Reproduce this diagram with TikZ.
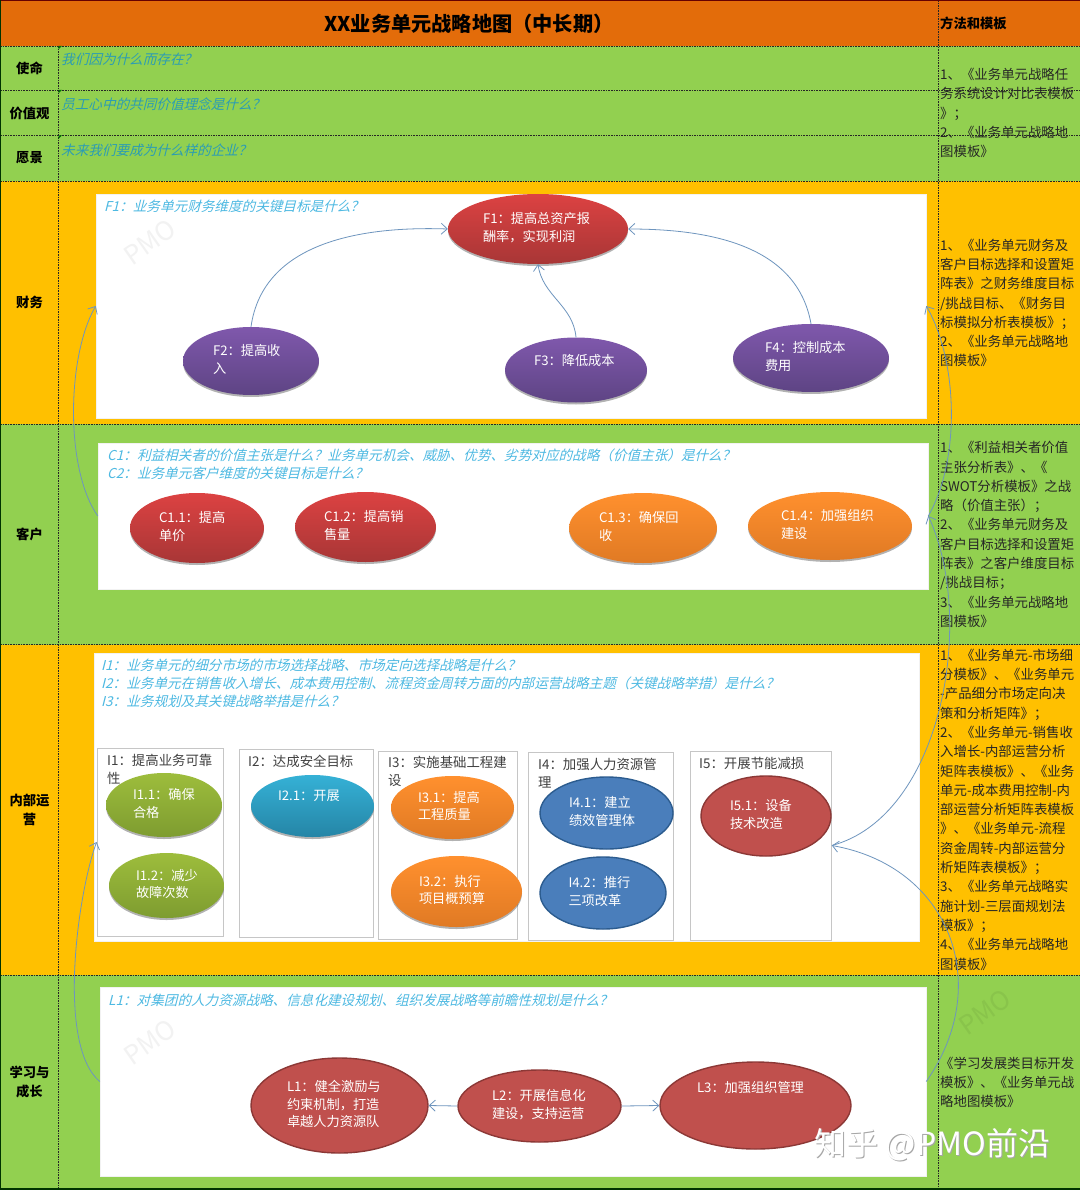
\documentclass[tikz,border=0pt]{standalone}
\usepackage{fontspec}
\setmainfont{Noto Sans CJK SC}
\newfontfamily\slantfont[FakeSlant=0.25]{Noto Sans CJK SC}
\usetikzlibrary{shapes.geometric,shadows,arrows.meta}
\definecolor{headbg}{HTML}{E36C0A}
\definecolor{greenbg}{HTML}{92D050}
\definecolor{yellowbg}{HTML}{FFC000}
\definecolor{flowcol}{HTML}{6E95BE}
\definecolor{asktop}{HTML}{2B9CB4}
\definecolor{askpanel}{HTML}{4DB9E2}
\tikzset{
    rowline/.style={line width=0.6pt,black!85,dash pattern=on 1.6pt off 1pt},
    rowlabel/.style={font=\fontsize{13.3}{19}\selectfont\bfseries,align=center,text=black},
    method/.style={anchor=west,inner sep=0pt,align=left,font=\fontsize{13.4}{19.3}\selectfont,text=black!85},
    panel/.style={fill=white,draw=white!90!gray,line width=0.5pt,inner sep=0pt},
    askmain/.style={anchor=west,inner sep=0pt,text=asktop,font=\fontsize{13.6}{18}\selectfont\slantfont},
    ask/.style={anchor=west,inner sep=0pt,text=askpanel,align=left,font=\fontsize{13.6}{18}\selectfont\slantfont},
    kpibox/.style={fill=white,draw=gray!45,line width=0.8pt,inner sep=0pt},
    kpititle/.style={anchor=north west,inner sep=0pt,align=left,text=black!75,font=\fontsize{13.4}{18}\selectfont},
    goal/.style={ellipse,inner sep=0pt,align=left,text=white,font=\fontsize{13.2}{17.5}\selectfont,execute at end node={\par\vspace*{3pt}}},
    softshadow/.style={drop shadow={shadow xshift=0pt,shadow yshift=-2pt,fill=black,opacity=0.3}},
    redgoal/.style={goal,top color=red1,bottom color=red2,softshadow},
    purplegoal/.style={goal,top color=purple1,bottom color=purple2,softshadow},
    orangegoal/.style={goal,top color=orange1,bottom color=orange2,softshadow},
    greengoal/.style={goal,top color=green1,bottom color=green2,softshadow},
    tealgoal/.style={goal,top color=teal1,bottom color=teal2,softshadow},
    bluegoal/.style={goal,fill=blue1,draw=blue2,line width=1.4pt},
    flatgoal/.style={goal,fill=flat1,draw=flat2,line width=1.4pt},
    flow/.style={draw=flowcol,line width=0.8pt,-{Straight Barb[length=6pt,width=11pt]}},
    cornermark/.style={fill=green!45!black},
    stamp/.style={text=gray!10,rotate=35,font=\fontsize{26}{28}\selectfont}
}
\definecolor{red1}{HTML}{DC4242}
\definecolor{red2}{HTML}{A83636}
\definecolor{purple1}{HTML}{7F58AC}
\definecolor{purple2}{HTML}{5E4484}
\definecolor{orange1}{HTML}{FF902E}
\definecolor{orange2}{HTML}{E07A24}
\definecolor{green1}{HTML}{9DBD3C}
\definecolor{green2}{HTML}{7E9C30}
\definecolor{teal1}{HTML}{35B1D6}
\definecolor{teal2}{HTML}{2585A6}
\definecolor{blue1}{HTML}{4A7EBB}
\definecolor{blue2}{HTML}{2C5C8F}
\definecolor{flat1}{HTML}{C0504D}
\definecolor{flat2}{HTML}{8C3836}
\begin{document}
\begin{tikzpicture}[x=1pt,y=-1pt]
            \useasboundingbox (0,0) rectangle (1080,1190);
            % bands
            \fill[headbg] (0,0) rectangle (1080,46);
            \fill[greenbg] (0,46) rectangle (1080,181);
            \fill[yellowbg] (0,181) rectangle (1080,424);
            \fill[greenbg] (0,424) rectangle (1080,644.5);
            \fill[yellowbg] (0,644.5) rectangle (1080,975);
            \fill[greenbg] (0,975) rectangle (1080,1190);
            \foreach \y in {46,90,135.5,181,424,644.5,975}
                \draw[rowline] (0,\y) -- (1080,\y);
            \draw[rowline] (58.5,46) -- (58.5,1190);
            \draw[rowline] (938,0) -- (938,1190);
            \draw[line width=1pt,red!40!black] (0,0.5) -- (1080,0.5);
            \draw[line width=1pt,green!20!black] (0.5,0) -- (0.5,1190);
            \draw[line width=1.5pt,green!20!black] (0,1189) -- (1080,1189);
            \foreach \y in {46,90,135.5}
                \fill[cornermark] (58.5,\y) -- (62,\y) -- (58.5,\y+3.5) -- cycle;
            % header
            \draw (469,24) node[font=\fontsize{20.2}{24}\selectfont\bfseries,text=black] (title) {XX业务单元战略地图（中长期）};
            \draw (940,23) node[anchor=west,inner sep=0pt,font=\fontsize{13.3}{19}\selectfont\bfseries,text=black] (methodhead) {方法和模板};
            % row labels
            \draw (29.5,68) node[rowlabel] (rmission) {使命};
            \draw (29.5,113) node[rowlabel] (rvalue) {价值观};
            \draw (29.5,158) node[rowlabel] (rvision) {愿景};
            \draw (29.5,302) node[rowlabel] (rfin) {财务};
            \draw (29.5,534) node[rowlabel] (rcust) {客户};
            \draw (29.5,810) node[rowlabel] (rint) {内部运\\营};
            \draw (29.5,1082) node[rowlabel] (rlearn) {学习与\\成长};
            \draw (61,59) node[askmain] (qmission) {我们因为什么而存在？};
            \draw (61,104) node[askmain] (qvalue) {员工心中的共同价值理念是什么？};
            \draw (61,150) node[askmain] (qvision) {未来我们要成为什么样的企业？};
            % white panels
            \draw (511,306) node[panel,minimum width=830,minimum height=224] (fpanel) {};
            \draw (513,516) node[panel,minimum width=830,minimum height=146] (cpanel) {};
            \draw (506.75,797.35) node[panel,minimum width=825.5,minimum height=288.7] (ipanel) {};
            \draw (513,1081.5) node[panel,minimum width=826,minimum height=189] (lpanel) {};
            \draw (150,242) node[stamp] (stampf) {PMO};
            \draw (150,1042) node[stamp] (stampl) {PMO};
            \draw (985,1012) node[stamp,text=greenbg!94!black] (stampm) {PMO};
            % questions
            \draw (104,206) node[ask] (qf) {F1：业务单元财务维度的关键目标是什么？};
            \draw (107,464) node[ask] (qc) {C1：利益相关者的价值主张是什么？业务单元机会、威胁、优势、劣势对应的战略（价值主张）是什么？\\C2：业务单元客户维度的关键目标是什么？};
            \draw (101,683) node[ask] (qi) {I1：业务单元的细分市场的市场选择战略、市场定向选择战略是什么？\\I2：业务单元在销售收入增长、成本费用控制、流程资金周转方面的内部运营战略主题（关键战略举措）是什么？\\I3：业务规划及其关键战略举措是什么？};
            \draw (108,1000) node[ask] (ql) {L1：对集团的人力资源战略、信息化建设规划、组织发展战略等前瞻性规划是什么？};
            % financial
            \draw (538,229) node[redgoal,minimum width=180,minimum height=70,text width=110] (f1) {F1：提高总资产报\\酬率，实现利润};
            \draw (251,361) node[purplegoal,minimum width=136,minimum height=68,text width=76] (f2) {F2：提高收\\入};
            \draw (576,370) node[purplegoal,minimum width=142,minimum height=65,text width=84] (f3) {F3：降低成本\\~};
            \draw (811,358) node[purplegoal,minimum width=156,minimum height=68,text width=92] (f4) {F4：控制成本\\费用};
            % customer
            \draw (197,528) node[redgoal,minimum width=134,minimum height=70,text width=76] (c11) {C1.1：提高\\单价};
            \draw (365.5,527) node[redgoal,minimum width=141,minimum height=70,text width=83] (c12) {C1.2：提高销\\售量};
            \draw (643,528) node[orangegoal,minimum width=148,minimum height=70,text width=88] (c13) {C1.3：确保回\\收};
            \draw (830,526) node[orangegoal,minimum width=164,minimum height=68,text width=98] (c14) {C1.4：加强组织\\建设};
            % internal
            \draw (160,842) node[kpibox,minimum width=126,minimum height=188] (i1box) {};
            \draw (306,843) node[kpibox,minimum width=134,minimum height=188] (i2box) {};
            \draw (447.5,845) node[kpibox,minimum width=139,minimum height=188] (i3box) {};
            \draw (600.5,846) node[kpibox,minimum width=145,minimum height=188] (i4box) {};
            \draw (760.75,845.5) node[kpibox,minimum width=141.5,minimum height=189] (i5box) {};
            \draw (107,754) node[kpititle] (i1title) {I1：提高业务可靠\\性};
            \draw (248,755) node[kpititle] (i2title) {I2：达成安全目标};
            \draw (388,756) node[kpititle] (i3title) {I3：实施基础工程建\\设};
            \draw (538,758) node[kpititle] (i4title) {I4：加强人力资源管\\理};
            \draw (699,757) node[kpititle] (i5title) {I5：开展节能减损};
            \draw (164,805) node[greengoal,minimum width=116,minimum height=64,text width=62] (i11) {I1.1：确保\\合格};
            \draw (166.5,885.5) node[greengoal,minimum width=115,minimum height=65,text width=61] (i12) {I1.2：减少\\故障次数};
            \draw (312.5,806) node[tealgoal,minimum width=123,minimum height=62,text width=69] (i21) {I2.1：开展\\~};
            \draw (452.5,807.5) node[orangegoal,minimum width=123,minimum height=63,text width=69] (i31) {I3.1：提高\\工程质量};
            \draw (456.5,891.5) node[orangegoal,minimum width=131,minimum height=71,text width=75] (i32) {I3.2：执行\\项目概预算};
            \draw (606.5,813) node[bluegoal,minimum width=133,minimum height=72,text width=75] (i41) {I4.1：建立\\绩效管理体};
            \draw (603,893) node[bluegoal,minimum width=126,minimum height=72,text width=69] (i42) {I4.2：推行\\三项改革};
            \draw (766,816) node[flatgoal,minimum width=130,minimum height=80,text width=72] (i51) {I5.1：设备\\技术改造};
            % learning
            \draw (339.5,1105.5) node[flatgoal,minimum width=177,minimum height=95,text width=105] (l1) {L1：健全激励与\\约束机制，打造\\卓越人力资源队};
            \draw (539.5,1106) node[flatgoal,minimum width=163,minimum height=72,text width=95] (l2) {L2：开展信息化\\建设，支持运营};
            \draw (755.5,1105.5) node[flatgoal,minimum width=191,minimum height=87,text width=117] (l3) {L3：加强组织管理\\~\\~};
            % methods column
            \draw (940,113) node[method] (m1) {1、《业务单元战略任\\务系统设计对比表模板\\》；\\2、《业务单元战略地\\图模板》};
            \draw (940,303) node[method] (m2) {1、《业务单元财务及\\客户目标选择和设置矩\\阵表》之财务维度目标\\/挑战目标、《财务目\\标模拟分析表模板》；\\2、《业务单元战略地\\图模板》};
            \draw (940,534.5) node[method] (m3) {1、《利益相关者价值\\主张分析表》、《\\SWOT分析模板》之战\\略（价值主张）；\\2、《业务单元财务及\\客户目标选择和设置矩\\阵表》之客户维度目标\\/挑战目标；\\3、《业务单元战略地\\图模板》};
            \draw (940,809.5) node[method] (m4) {1、《业务单元-市场细\\分模板》、《业务单元\\-产品细分市场定向决\\策和分析矩阵》；\\2、《业务单元-销售收\\入增长-内部运营分析\\矩阵表模板》、《业务\\单元-成本费用控制-内\\部运营分析矩阵表模板\\》、《业务单元-流程\\资金周转-内部运营分\\析矩阵表模板》；\\3、《业务单元战略实\\施计划-三层面规划法\\模板》；\\4、《业务单元战略地\\图模板》};
            \draw (940,1082.5) node[method] (m5) {《学习发展类目标开发\\模板》、《业务单元战\\略地图模板》};
            % connectors
            \draw[flow] (f2.north) to[out=82,in=178] (f1.west);
            \draw[flow] (f3.north) to[out=95,in=-82] (f1.south);
            \draw[flow] (f4.north) to[out=100,in=0] (f1.east);
            \draw[flow] (cpanel.west) to[out=125,in=-120,looseness=0.7] (fpanel.west);
            \draw[flow] (lpanel.west) to[out=140,in=-110,looseness=0.6] (i1box.west);
            \draw[flow] (cpanel.east) to[out=60,in=-60,looseness=0.78] (fpanel.east);
            \draw[flow] (i5box.east) to[out=15,in=-65,looseness=0.85] (cpanel.east);
            \draw[flow] (lpanel.east) to[out=55,in=-10,looseness=1.2] (i5box.east);
            \draw[flow] (l2.west) -- (l1.east);
            \draw[flow] (l2.east) -- (l3.west);
            % stamp
            \draw (933.5,1146) node[text=gray!70,font=\fontsize{32}{34}\selectfont] (logoshade) {知乎 @PMO前沿};
            \draw (932.5,1145) node[text=white,font=\fontsize{32}{34}\selectfont] (logo) {知乎 @PMO前沿};
\end{tikzpicture}
\end{document}
